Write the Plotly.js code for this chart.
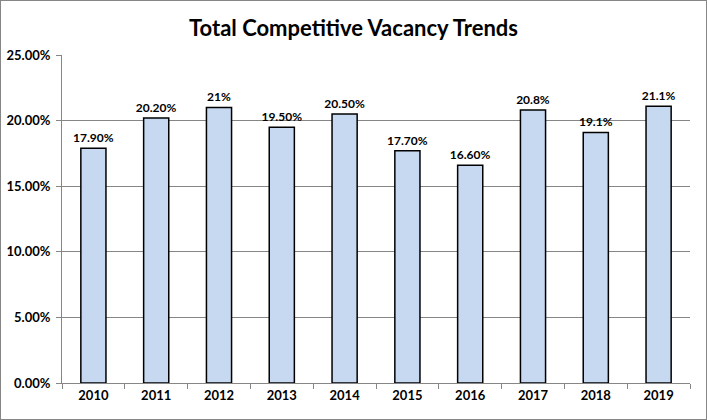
<!DOCTYPE html>
<html>
<head>
<meta charset="utf-8">
<script src="https://cdn.plot.ly/plotly-3.0.1.min.js"></script>
<style>
  html, body { margin: 0; padding: 0; background: #fff; }
  #graph { position: absolute; left: 0; top: 0; width: 705px; height: 418px; border: 1px solid #868686; }
</style>
</head>
<body>
<div id="graph"></div>
<script>
// years and vacancy rates
var years = ['2010', '2011', '2012', '2013', '2014', '2015', '2016', '2017', '2018', '2019'];
var rates = [0.179, 0.202, 0.21, 0.195, 0.205, 0.177, 0.166, 0.208, 0.191, 0.211];
var labels = ['17.90%', '20.20%', '21%', '19.50%', '20.50%', '17.70%', '16.60%', '20.8%', '19.1%', '21.1%'];
var yTicks = [0, 0.05, 0.10, 0.15, 0.20, 0.25];

var font = 'Lato, "Open Sans", sans-serif';

var trace0 = {
    x: years,
    y: rates,
    type: 'bar',
    width: 0.4,
    text: labels,
    textposition: 'outside',
    constraintext: 'none',
    cliponaxis: false,
    textfont: { family: font, size: 12, color: '#000', weight: 'bold' },
    marker: {
        color: '#C6D9F1',
        line: { color: '#000', width: 1.5 }
    },
    hoverinfo: 'none'
};

var layout = {
    showlegend: false,
    width: 705,
    height: 418,
    margin: { l: 61, r: 16, t: 54, b: 36 },
    paper_bgcolor: '#fff',
    plot_bgcolor: '#fff',
    font: { family: font, color: '#000' },
    title: {
        text: '<b>Total Competitive Vacancy Trends</b>',
        font: { family: font, size: 22, color: '#000' },
        x: 0.5,
        xanchor: 'center',
        y: 0.935,
        yanchor: 'middle'
    },
    xaxis: {
        type: 'category',
        showline: true,
        linecolor: '#868686',
        linewidth: 1,
        ticks: 'outside',
        tickson: 'boundaries',
        ticklen: 5,
        tickcolor: '#868686',
        showgrid: false,
        tickfont: { family: font, size: 13, color: '#000', weight: 'bold' }
    },
    yaxis: {
        range: [0, 0.25],
        autorange: false,
        tickvals: yTicks,
        tickformat: '.2%',
        showline: true,
        linecolor: '#868686',
        linewidth: 1,
        ticks: 'outside',
        ticklen: 5,
        tickcolor: '#868686',
        showgrid: true,
        gridcolor: '#868686',
        gridwidth: 1,
        zeroline: false,
        ticklabelstandoff: 3,
        tickfont: { family: font, size: 13, color: '#000', weight: 'bold' }
    },
    bargap: 0.6
};

var graph = document.getElementById('graph');
Plotly.newPlot(graph, [trace0], layout, { staticPlot: true, displayModeBar: false });
</script>
</body>
</html>
